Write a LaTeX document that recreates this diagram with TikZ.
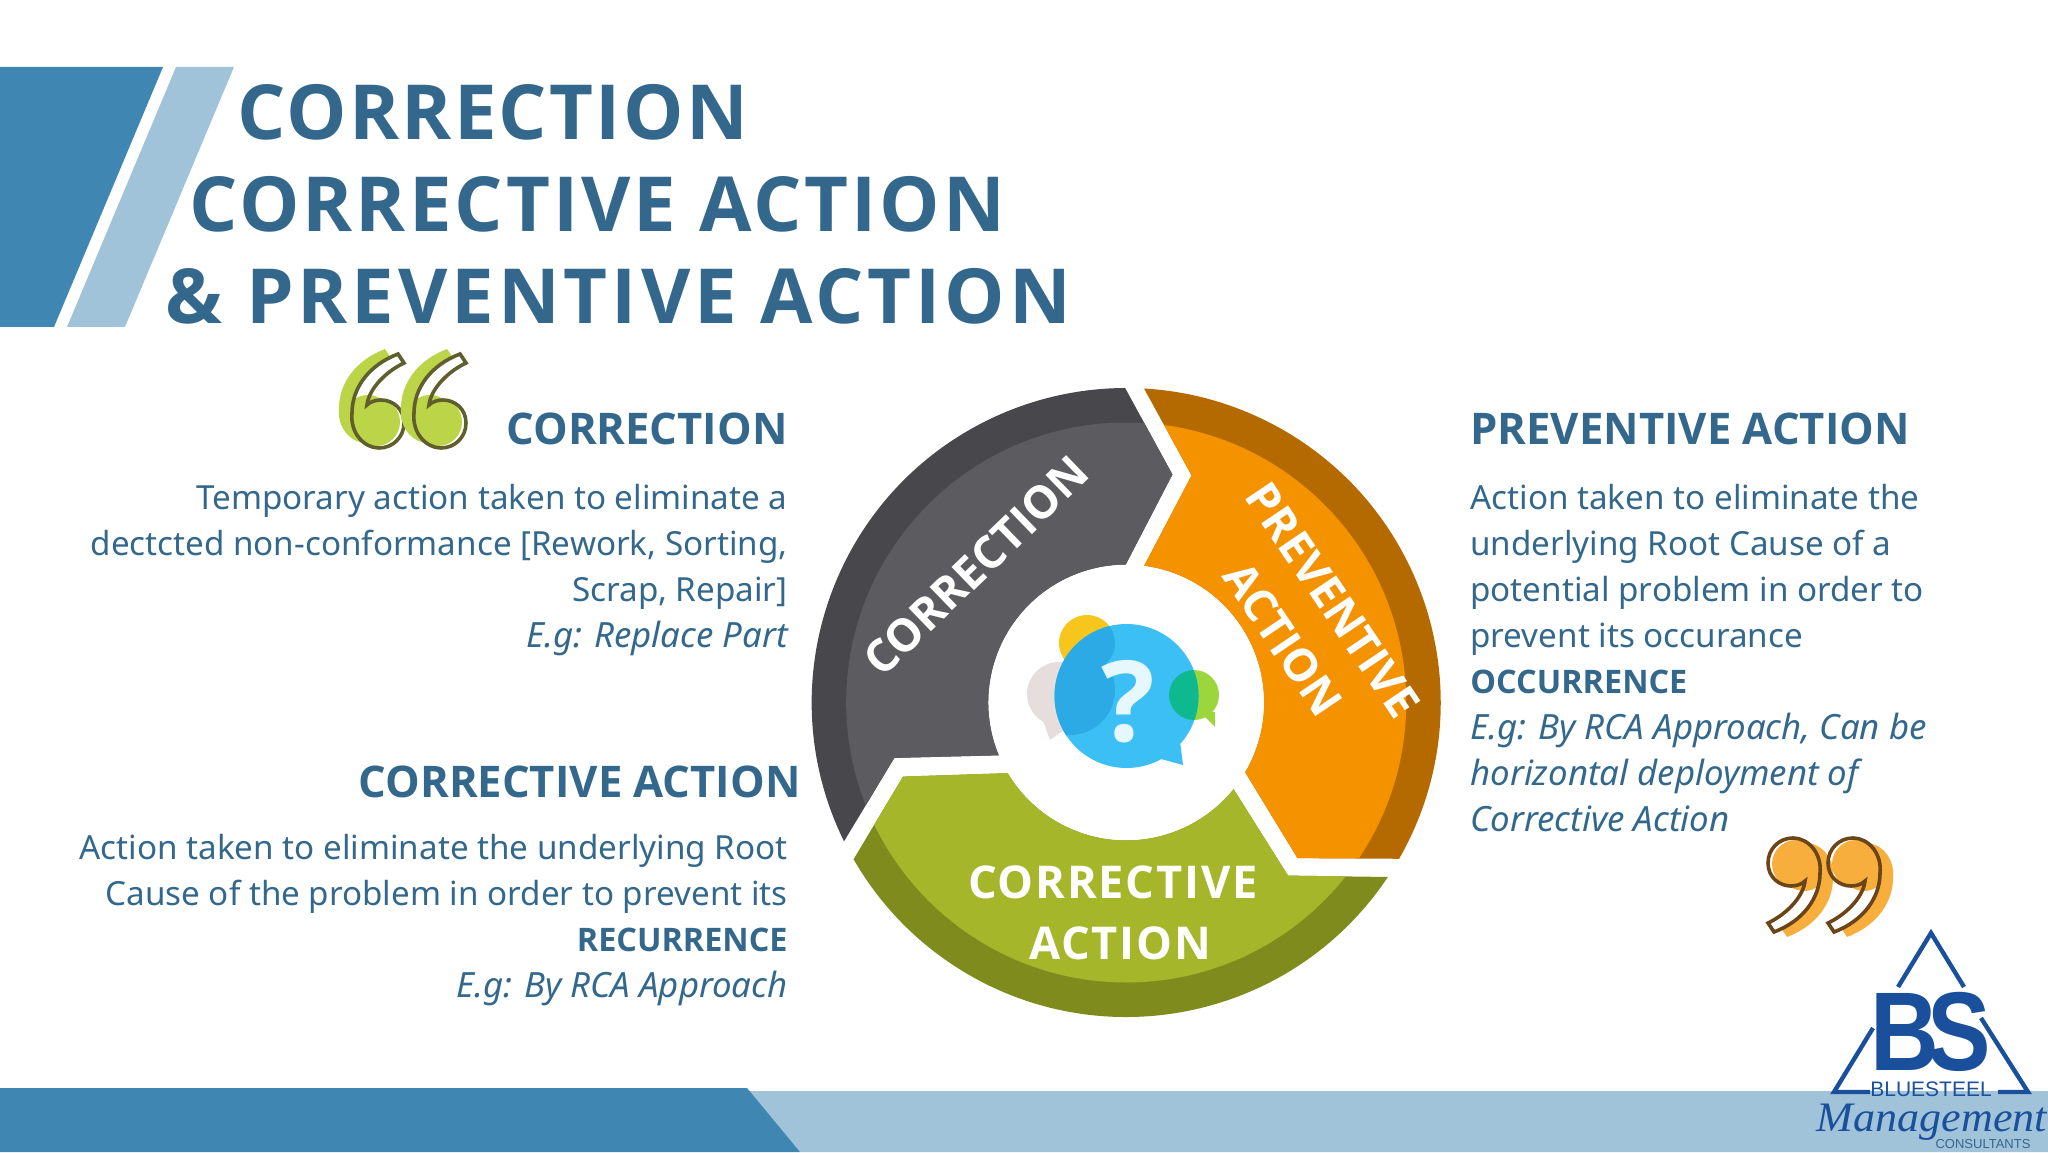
\documentclass[tikz,border=0pt]{standalone}
\usepackage{fontspec}
\setmainfont{Noto Sans}
\newfontfamily\headfont{Open Sans}
\newfontfamily\logosans{Liberation Sans}
\newfontfamily\logoscript{Liberation Serif}
\usepackage{tikz}

\definecolor{bandblue}{HTML}{3F86B2}
\definecolor{bandlight}{HTML}{A1C3DA}
\definecolor{inkblue}{HTML}{33688C}
\definecolor{logoblue}{HTML}{1A4F9C}
\definecolor{graydark}{HTML}{48474B}
\definecolor{graylight}{HTML}{5C5B60}
\definecolor{orangedark}{HTML}{B56A00}
\definecolor{orangelight}{HTML}{F59200}
\definecolor{greendark}{HTML}{7F8B1D}
\definecolor{greenlight}{HTML}{A5B62A}
\definecolor{limequote}{HTML}{BCD448}
\definecolor{oliveline}{HTML}{5E5F2C}
\definecolor{amberquote}{HTML}{F8AE3C}
\definecolor{brownline}{HTML}{6B4518}
\definecolor{bubbleblue}{HTML}{3CBFF5}
\definecolor{bubbledeep}{HTML}{2BAAE6}
\definecolor{bubbleteal}{HTML}{0FB98F}
\definecolor{bubblelime}{HTML}{9BD63C}
\definecolor{bubblegold}{HTML}{F6C61C}
\definecolor{bubblegray}{HTML}{E6DEDC}

\tikzset{
  titletext/.style={anchor=base west, inner sep=0pt, text=inkblue, font=\headfont\fontsize{38}{38}\selectfont\bfseries},
  headtext/.style={inner sep=0pt, text=inkblue, font=\headfont\fontsize{21.8}{24}\selectfont\bfseries},
  bodytext/.style={inner sep=0pt, text=inkblue, font=\fontsize{16.6}{23}\selectfont},
  wheeltext/.style={inner sep=0pt, text=white, font=\headfont\fontsize{22.6}{22}\selectfont\bfseries},
  logoline/.style={draw=logoblue, line width=2.2pt, miter limit=10}
}

\newcommand{\wheelseg}[3]{
  \fill [#1] #3;
  \begin{scope}
    \clip #3;
    \fill [#2] (0,0) circle [radius=140pt];
  \end{scope}
}
\newcommand{\quotemark}[2]{
  \fill [#1, shift={(-13,5)}] \quoteshape;
  \fill [#1] (-3,1) circle [radius=24];
  \draw [#2, line width=1.8pt] \quoteshape;
}
\newcommand{\boldword}[1]{{\headfont\fontsize{16.2}{23}\selectfont\bfseries #1}}
\newcommand{\egline}{\fontsize{17.4}{23}\selectfont\itshape}
\def\quoteshape{(19,69) .. controls (-10,58) and (-27,35) .. (-27,10) .. controls (-29,-10) and (-15,-25) .. (0,-25) .. controls (14,-25) and (25,-14) .. (25,0) .. controls (25,14) and (14,23) .. (2,23) .. controls (-4,23) and (-9,21) .. (-12,18) .. controls (-10,35) and (8,52) .. (25,60) -- cycle}

\begin{document}
\begin{tikzpicture}[x=0.5pt, y=0.5pt]
      \useasboundingbox (0,0) rectangle (2048,1152);

      % top banner
      \fill [bandblue] (0,1085) -- (163,1085) -- (54,825) -- (0,825) -- cycle;
      \fill [bandlight] (176,1085) -- (234,1085) -- (125,825) -- (67,825) -- cycle;

      \node[titletext](title1) at (237,1012){\addfontfeature{LetterSpace=3}CORRECTION};
      \node[titletext](title2) at (189,920){\addfontfeature{LetterSpace=4}CORRECTIVE ACTION};
      \node[titletext](title3) at (165,828){\addfontfeature{LetterSpace=5.2}\& PREVENTIVE ACTION};

      % bottom band
      \fill [bandlight] (747,61) -- (2048,61) -- (2048,0) -- (800,0) -- cycle;
      \fill [bandblue] (0,64) -- (747,64) -- (800,0) -- (0,0) -- cycle;

      % left column
      \node[headtext, anchor=base east](corrhead) at (788,707){CORRECTION};
      \node[bodytext, align=right, anchor=north east](corrbody) at (788,668){Temporary action taken to eliminate a\\dectcted non-conformance [Rework, Sorting,\\Scrap, Repair]\\\egline E.g: Replace Part};
      \node[headtext, anchor=base east](cahead) at (801,355){CORRECTIVE ACTION};
      \node[bodytext, align=right, anchor=north east](cabody) at (788,318){Action taken to eliminate the underlying Root\\Cause of the problem in order to prevent its\\\boldword{RECURRENCE}\\\egline E.g: By RCA Approach};

      % right column
      \node[headtext, anchor=base west](pahead) at (1470,707){PREVENTIVE ACTION};
      \node[bodytext, align=left, anchor=north west](pabody) at (1470,668){Action taken to eliminate the\\underlying Root Cause of a\\potential problem in order to\\prevent its occurance\\\boldword{OCCURRENCE}\\\egline E.g: By RCA Approach, Can be\\\egline horizontal deployment of\\\egline Corrective Action};

      % wheel
      \begin{scope}[shift={(1126.2,449.5)}]
        \wheelseg{graydark}{graylight}{(90.2:314.5) -- (46.2,228) -- (90.2:138) arc [start angle=90.2, end angle=202.5, radius=69pt] -- (-231.9,-55.4) -- (206.2:314.5) arc [start angle=206.2, end angle=90.2, radius=157.25pt] -- cycle}
        \wheelseg{orangedark}{orangelight}{(86.75:314.5) -- (65.4,227.1) -- (82.5:138) arc [start angle=82.5, end angle=-30.4, radius=69pt] -- (171.3,-155.6) -- (-29.8:314.5) arc [start angle=-29.8, end angle=86.75, radius=157.25pt] -- cycle}
        \wheelseg{greendark}{greenlight}{(-223.2,-74.1) -- (210.8:138) arc [start angle=210.8, end angle=321.1, radius=69pt] -- (161.8,-173.1) -- (-33.7:314.5) arc [start angle=-33.7, end angle=-150.1, radius=157.25pt] -- cycle}
      \end{scope}

      \node[wheeltext, rotate=44](wheelcorr) at (976,586){CORRECTION};
      \node[wheeltext, rotate=-56](wheelprev) at (1333,552){PREVENTIVE};
      \node[wheeltext, rotate=-56](wheelact) at (1283,513){ACTION};
      \node[wheeltext](wheelca1) at (1113,270){\addfontfeature{LetterSpace=4}CORRECTIVE};
      \node[wheeltext](wheelca2) at (1120,209){\addfontfeature{LetterSpace=4}ACTION};

      % question bubbles
      \fill [bubblegold] (1087,509) circle [radius=28];
      \fill [bubblegray] (1059,458) circle [radius=32];
      \fill [bubblegray] (1040,440) -- (1050,412) -- (1075,430) -- cycle;
      \fill [bubblelime] (1194,457) circle [radius=25];
      \fill [bubblelime] (1200,440) -- (1215,425) -- (1215,440) -- cycle;
      \fill [bubbleblue] (1126.5,456) circle [radius=72] (1161,393) -- (1183,387) -- (1180,411) -- cycle;
      \begin{scope}
        \clip (1126.5,456) circle [radius=72];
        \fill [bubbledeep] (1087,509) circle [radius=28];
        \fill [bubbledeep] (1070,462) circle [radius=45];
        \fill [bubbleteal] (1194,457) circle [radius=25];
      \end{scope}
      \node[inner sep=0pt, text=white!90!cyan, font=\headfont\fontsize{56}{56}\selectfont\bfseries](qmark) at (1128,450){?};

      % quote marks
      \begin{scope}[shift={(379,729)}]
        \quotemark{limequote}{oliveline}
      \end{scope}
      \begin{scope}[shift={(441,729)}]
        \quotemark{limequote}{oliveline}
      \end{scope}
      \begin{scope}[shift={(1793,289)}, rotate=180]
        \quotemark{amberquote}{brownline}
      \end{scope}
      \begin{scope}[shift={(1853,289)}, rotate=180]
        \quotemark{amberquote}{brownline}
      \end{scope}

      % logo
      \draw [logoline] (1898,165) -- (1931,219) -- (1964,165);
      \draw [logoline] (1873,124) -- (1834,60) -- (1870,60);
      \draw [logoline] (1981,134) -- (2028,60) -- (1998,60);
      \node[inner sep=0pt, text=logoblue, xscale=0.85, font=\logosans\fontsize{56}{56}\selectfont\bfseries](logobs) at (1931,120){B\kern-7pt S};
      \node[inner sep=0pt, text=logoblue, font=\logosans\fontsize{10.5}{10.5}\selectfont](logoname) at (1931,63){BLUESTEEL};
      \node[inner sep=0pt, text=logoblue, xscale=1.05, font=\logoscript\fontsize{21}{21}\selectfont\itshape](logoscript) at (1932,30){Management};
      \node[inner sep=0pt, text=inkblue, font=\logosans\fontsize{6.5}{6.5}\selectfont](logocons) at (1983,8){CONSULTANTS};
    \end{tikzpicture}
\end{document}
